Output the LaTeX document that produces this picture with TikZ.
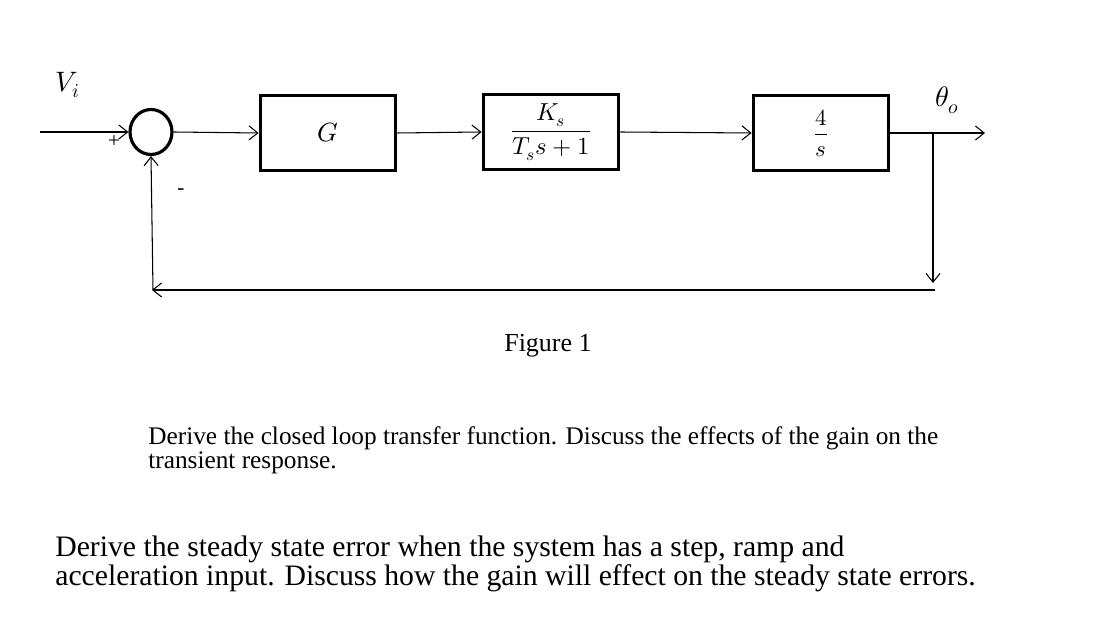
\documentclass[tikz,border=0pt]{standalone}
\usepackage{fontspec}
\setmainfont{Liberation Serif}
\usepackage{unicode-math}
\setmathfont{Latin Modern Math}
\usetikzlibrary{arrows.meta,shapes.geometric}
\begin{document}
\begin{tikzpicture}[x=0.02cm,y=-0.02cm,
  blk/.style={draw,line width=2.2pt,minimum width=2.7cm,minimum height=1.5cm,inner sep=0pt},
  ar/.style={-{Straight Barb[length=5pt,width=8pt]},line width=0.6pt},
  ln/.style={line width=0.6pt}]
\useasboundingbox (0,0) rectangle (1099,617);
\node[draw,ellipse,line width=1.8pt,minimum width=0.84cm,minimum height=0.9cm,inner sep=0pt] (sum) at (151,132) {};
\node[blk] (g) at (328,133) {\fontsize{15}{17}\selectfont $G$};
\node[blk] (k) at (551,132) {\fontsize{14}{16}\selectfont $\dfrac{K_s}{T_s s+1}$};
\node[blk] (f) at (821,133) {\fontsize{13}{15}\selectfont $\dfrac{4}{s}$};
\coordinate (in) at (40,132);
\coordinate (br) at (933,133);
\coordinate (out) at (985,133);
\coordinate (dn) at (933,283);
\coordinate (fr) at (935,290);
\coordinate (fl) at (152,290);
\coordinate (fu) at (153,290);
\draw[ar] (in) -- (sum.west);
\draw[ar] (sum.east) -- (g.west);
\draw[ar] (g.east) -- (k.west);
\draw[ar] (k.east) -- (f.west);
\draw[ar] (f.east) -- (out);
\draw[ar] (br) -- (dn);
\draw[ar] (fr) -- (fl);
\draw[ar] (fu) -- (sum.south);
\node (vi) at (68,85) {\fontsize{16}{18}\selectfont $V_i$};
\node (th) at (947,100) {\fontsize{16}{18}\selectfont $\theta_o$};
\node (plus) at (114,142) {\fontsize{12}{14}\selectfont +};
\node (minus) at (181,192) {\fontsize{12}{14}\selectfont -};
\node (fig) at (548,346) {\fontsize{14.8}{16}\selectfont Figure 1};
\node[anchor=west,align=left,inner sep=0pt] (p1) at (148,450) {\fontsize{14.4}{17}\selectfont Derive the closed loop transfer function. Discuss the effects of the gain on the\\ \fontsize{14.4}{17}\selectfont transient response.};
\node[anchor=west,align=left,inner sep=0pt] (p2) at (55,564) {\fontsize{16.9}{18.2}\selectfont Derive the steady state error when the system has a step, ramp and\\ \fontsize{16.9}{18.2}\selectfont acceleration input. Discuss how the gain will effect on the steady state errors.};
\end{tikzpicture}
\end{document}
